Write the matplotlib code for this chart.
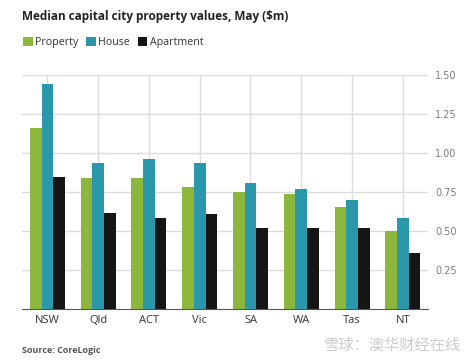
import matplotlib.pyplot as plt
import numpy as np

# data
states = ['NSW', 'Qld', 'ACT', 'Vic', 'SA', 'WA', 'Tas', 'NT']
property_vals = [1.157, 0.841, 0.838, 0.780, 0.752, 0.735, 0.654, 0.500]
house_vals = [1.439, 0.933, 0.959, 0.933, 0.806, 0.767, 0.699, 0.584]
apartment_vals = [0.848, 0.614, 0.584, 0.611, 0.522, 0.522, 0.522, 0.360]
yticks = [0.25, 0.50, 0.75, 1.00, 1.25, 1.50]

green = '#8cb63c'
teal = '#2b97ab'
black = '#151515'

plt.rcParams['font.family'] = ['Open Sans', 'DejaVu Sans']

fig = plt.figure(figsize=(4.74, 3.61), dpi=100)
ax = fig.add_axes([0.0464, 0.1432, 0.857, 0.6498])

x = np.arange(len(states))
w = 0.23
ax.bar(x - w, property_vals, w, color=green, zorder=3, label='Property')
ax.bar(x, house_vals, w, color=teal, zorder=3, label='House')
ax.bar(x + w, apartment_vals, w, color=black, zorder=3, label='Apartment')

ax.set_xlim(-0.5, 7.5)
ax.set_ylim(0, 1.5)
ax.set_xticks(x)
ax.set_xticklabels(states)
ax.set_yticks(yticks)
ax.set_yticklabels(['%.2f' % v for v in yticks], family='DejaVu Sans')
ax.yaxis.tick_right()
ax.tick_params(axis='y', length=0, pad=5, labelsize=7, labelcolor='#7a7a7a')
ax.tick_params(axis='x', length=0, pad=4, labelsize=8, labelcolor='#333333')
ax.grid(True, color='#dcdcdc', linewidth=1, zorder=0)
for s in ['top', 'right', 'left']:
    ax.spines[s].set_visible(False)
ax.spines['bottom'].set_color('#555555')
ax.spines['bottom'].set_zorder(4)

fig.text(0.0464, 0.953, 'Median capital city property values, May ($m)',
         fontsize=8.5, fontweight='bold', color='#222222', va='center')
fig.legend(loc='center left', bbox_to_anchor=(0.028, 0.883), ncol=3, frameon=False,
           fontsize=7.7, handlelength=0.9, handleheight=0.9, handletextpad=0.25,
           columnspacing=0.7, labelcolor='#333333')
fig.text(0.0464, 0.03, 'Source: CoreLogic', fontsize=6.5, fontweight='bold',
         color='#555555', va='center')
fig.text(0.973, 0.045, '雪球：澳华财经在线', fontsize=11, color='#cccccc',
         ha='right', va='center', family=['Noto Sans CJK SC', 'DejaVu Sans'])

fig.savefig('out.png', dpi=100)
